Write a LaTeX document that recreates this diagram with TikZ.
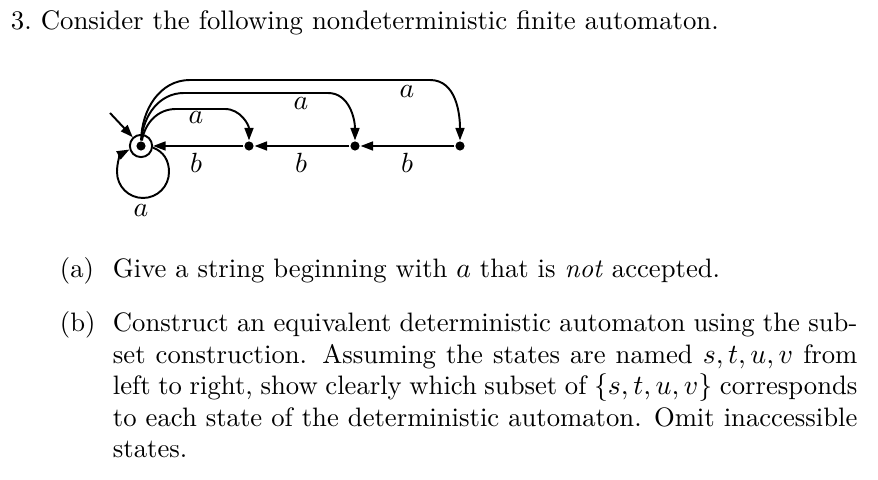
\documentclass[tikz,border=0pt]{standalone}
\usetikzlibrary{arrows.meta}
\begin{document}
\begin{tikzpicture}[x=0.36pt,y=-0.36pt,>={Triangle[length=4.5pt,width=3.2pt]},line width=0.7pt,
  state/.style={circle,fill,inner sep=0pt,minimum size=3.3pt},
  accept/.style={circle,draw,inner sep=0pt,minimum size=8pt},
  txt/.style={anchor=base west,inner sep=0pt,font=\fontsize{9.6}{11.34}\selectfont}]
  \useasboundingbox (0,0) rectangle (878,480);
  \node[txt,font=\fontsize{9.65}{11}\selectfont] (title) at (10,30) {3.\ Consider the following nondeterministic finite automaton.};

  \node[state] (s) at (141,146) {};
  \node[accept] (s0) at (141,146) {};
  \node[state] (t) at (249,146) {};
  \node[state] (u) at (355,146) {};
  \node[state] (v) at (460,146) {};
  \coordinate (init) at (110,113);

  \node (at) at (196,118) {$a$};
  \node (au) at (301,104) {$a$};
  \node (av) at (407,92) {$a$};
  \node (bt) at (196,163) {$b$};
  \node (bu) at (301,163) {$b$};
  \node (bv) at (407,163) {$b$};
  \node (aloop) at (141,211) {$a$};

  \draw[->] (init) -> (s0);
  \draw[->] (t) -> (s0);
  \draw[->] (u) -> (t);
  \draw[->] (v) -> (u);
  \draw[->] (s) to[out=80,in=180] (176,109) -- (225,109) to[out=0,in=90] (t);
  \draw[->] (s) to[out=86,in=180] (184,93) -- (328,93) to[out=0,in=90] (u);
  \draw[->] (s) to[out=89,in=180] (190,80) -- (430,80) to[out=0,in=90] (v);
  \draw[->] (s0.-8) to[out=-20,in=90] (169,172) to[out=-90,in=0] (143,198)
    to[out=180,in=-90] (117,172) to[out=90,in=-152] (s0.-163);

  \node[txt] (pa) at (59,278) {(a)};
  \node[txt] (qa) at (112,278) {Give a string beginning with $a$ that is \emph{not} accepted.};
  \node[txt] (pb) at (59,332) {(b)};
  \node[txt] (qb) at (112,332) {\parbox[t]{268pt}{%
    \makebox[268pt][s]{Construct an equivalent deterministic automaton using the sub-}\\
    \makebox[268pt][s]{set construction. Assuming the states are named $s,t,u,v$ from}\\
    \makebox[268pt][s]{left to right, show clearly which subset of $\{s,t,u,v\}$ corresponds}\\
    \makebox[268pt][s]{to each state of the deterministic automaton. Omit inaccessible}\\
    states.}};
\end{tikzpicture}
\end{document}
